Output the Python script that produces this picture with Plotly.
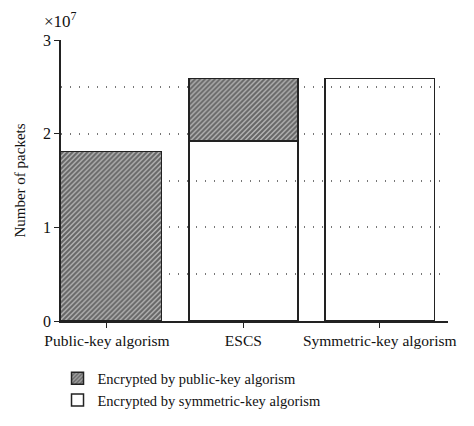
import plotly.graph_objects as go

# Values in units of 10^7 packets
categories = ["Public-key algorism", "ESCS", "Symmetric-key algorism"]
symmetric_encrypted = [None, 1.92, 2.59]
public_encrypted = [1.81, 0.67, None]
y_tick_vals = [0, 1, 2, 3]
y_tick_text = ["0", "1", "2", "3"]
grid_vals = [0.5, 1.0, 1.5, 2.0, 2.5]

FONT = "Liberation Serif"

fig = go.Figure()
fig.add_trace(go.Bar(
    x=categories, y=symmetric_encrypted,
    name="Encrypted by symmetric-key algorism",
    marker=dict(color="rgba(255,255,255,0)", line=dict(color="#222", width=1.5)),
    width=0.8, legendrank=2,
))
fig.add_trace(go.Bar(
    x=categories, y=public_encrypted,
    name="Encrypted by public-key algorism",
    marker=dict(color="#999999", line=dict(color="#222", width=1.5),
                pattern=dict(shape="/", fgcolor="#111111", bgcolor="#b8b8b8",
                             size=3.5, solidity=0.6)),
    width=0.8, legendrank=1,
))

# page body adds ~8px offset, so the figure is 8px smaller with shifted margins
fig.update_layout(
    barmode="stack",
    width=466, height=418,
    margin=dict(l=53, r=26, t=32, b=105, autoexpand=False),
    paper_bgcolor="white", plot_bgcolor="rgba(0,0,0,0)",
    font=dict(family=FONT, size=15, color="#111"),
    showlegend=True,
    legend=dict(traceorder="normal", x=-0.009, xanchor="left", y=-0.147, yanchor="top",
                font=dict(family=FONT, size=14.5), tracegroupgap=0, itemwidth=30),
)
fig.update_xaxes(
    range=[-0.337, 2.5], showline=True, linecolor="#222", linewidth=1.5,
    ticks="outside", ticklen=5, tickcolor="#222", showgrid=False, automargin=False,
    tickfont=dict(family=FONT, size=15.5),
)
fig.update_yaxes(
    range=[0, 3], showline=True, linecolor="#222", linewidth=1.5,
    tickmode="array", tickvals=y_tick_vals, ticktext=y_tick_text,
    ticks="outside", ticklen=5, tickcolor="#222", showgrid=False, zeroline=False,
    automargin=False,
    tickfont=dict(family=FONT, size=16),
    title=dict(text="Number of packets", font=dict(family=FONT, size=15), standoff=14),
    minor=dict(tickmode="array", tickvals=grid_vals, showgrid=True, griddash="1px,8px",
               gridcolor="#777", gridwidth=1.5, ticks=""),
    layer="above traces",
)
fig.add_annotation(
    text="×10<sup>7</sup>", xref="paper", yref="paper", x=-0.05, y=1.0,
    xanchor="left", yanchor="bottom", yshift=7, showarrow=False,
    font=dict(family=FONT, size=17),
)
fig.write_html("out.html")
